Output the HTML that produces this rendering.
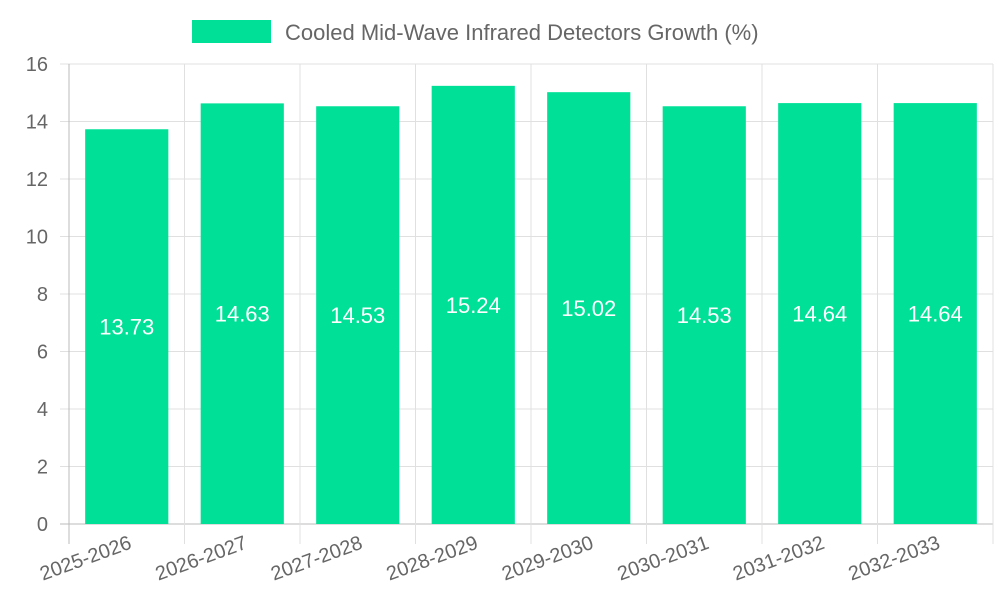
<!DOCTYPE html>
<html><head><meta charset="utf-8"><style>
html,body{margin:0;padding:0;background:#fff;}
svg{display:block;font-family:"Liberation Sans",sans-serif;}
</style></head><body>
<svg id="chart" width="1000" height="600" viewBox="0 0 1000 600">
<g>
<rect x="192" y="20" width="79" height="23" fill="#00e096"/>
<text x="285" y="40" font-size="22" fill="#666">Cooled Mid-Wave Infrared Detectors Growth (%)</text>
</g>
<g id="grid"></g>
<g id="bars"></g>
<g id="axes"></g>
</svg>
<script>
const categories=["2025-2026","2026-2027","2027-2028","2028-2029","2029-2030","2030-2031","2031-2032","2032-2033"];
const values=[13.73,14.63,14.53,15.24,15.02,14.53,14.64,14.64];
const yTicks=[0,2,4,6,8,10,12,14,16];
const NS="http://www.w3.org/2000/svg";
const L=69,R=993,T=64,B=524,yMax=16;
const y=v=>B-(v/yMax)*(B-T);
const cw=(R-L)/categories.length;
const x=i=>L+cw*i;
function mk(t,a,p){const e=document.createElementNS(NS,t);for(const k in a)e.setAttribute(k,a[k]);p.appendChild(e);return e;}
const grid=document.getElementById('grid'),bars=document.getElementById('bars'),axes=document.getElementById('axes');
yTicks.forEach(v=>{
 const ln=mk('line',{x1:60,x2:R,y1:y(v),y2:y(v),stroke:v===0?'#bbb':'#e0e0e0','stroke-width':1},grid);
 
 
 const t=mk('text',{x:48,y:y(v)+7,'text-anchor':'end','font-size':20,fill:'#666'},axes);
 t.textContent=v;
 
 
});
for(let i=0;i<=categories.length;i++){
 const ln=mk('line',{x1:x(i),x2:x(i),y1:T,y2:B+20,stroke:i===0?'#bbb':'#e0e0e0','stroke-width':1},grid);
 
 
}
const bw=cw*0.72;
categories.forEach((c,i)=>{
 const cx=x(i)+cw/2;
 const r=mk('rect',{x:cx-bw/2,y:y(values[i]),width:bw,height:B-y(values[i]),fill:'#00e096'},bars);
 
 
 const t=mk('text',{x:cx,y:(y(values[i])+B)/2+8,'text-anchor':'middle','font-size':22,fill:'#fff'},bars);
 t.textContent=values[i].toFixed(2);
 
 
 const xl=mk('text',{transform:`translate(${cx+6},${B+24}) rotate(-20)`,'text-anchor':'end','font-size':20,fill:'#666'},axes);
 xl.textContent=c;
 
 
});
</script>
</body></html>
